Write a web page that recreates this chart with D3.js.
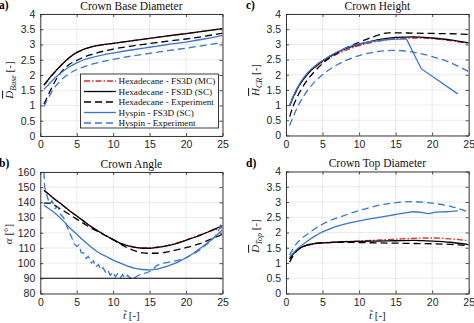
<!DOCTYPE html>
<html>
<head>
<meta charset="utf-8">
<script src="https://d3js.org/d3.v7.min.js"></script>
<style>
  body { margin: 0; background: #fff; }
  svg { display: block; }
</style>
</head>
<body>
<svg id="chart" width="474" height="323"></svg>
<script>
// ---- data ----
var xTicks = [0, 5, 10, 15, 20, 25];
var diamTicks = [0, 0.5, 1, 1.5, 2, 2.5, 3, 3.5, 4];
var angleTicks = [80, 90, 100, 110, 120, 130, 140, 150, 160];
var legendNames = ["Hexadecane - FS3D (MC)", "Hexadecane - FS3D (SC)", "Hexadecane - Experiment", "Hyspin - FS3D (SC)", "Hyspin - Experiment"];

// a) crown base diameter
var baseHexMC = [[0.5,1.66],[1,1.81],[1.5,1.96],[2,2.1],[3,2.35],[4,2.57],[5,2.73],[6,2.84],[7,2.92],[8,2.97],[10,3.04],[12.5,3.12],[15,3.2],[17.5,3.28],[20,3.36],[22.5,3.44],[25,3.52]];
var baseHexSC = [[0.5,1.67],[1,1.82],[1.5,1.97],[2,2.1],[3,2.35],[4,2.57],[5,2.74],[6,2.85],[7,2.92],[8,2.97],[10,3.04],[12.5,3.12],[15,3.2],[17.5,3.28],[20,3.36],[22.5,3.44],[25,3.52]];
var baseHexExp = [[0.5,1.05],[1,1.3],[1.5,1.55],[2,1.78],[3,2.13],[4,2.35],[5,2.48],[6,2.59],[7,2.67],[8,2.74],[10,2.85],[12.5,2.95],[15,3.03],[17.5,3.11],[20,3.18],[22.5,3.27],[25,3.37]];
var baseHysSC = [[0.5,1.53],[1,1.65],[1.5,1.78],[2,1.9],[3,2.1],[4,2.27],[5,2.4],[6,2.5],[7,2.57],[8,2.63],[10,2.72],[12.5,2.82],[15,2.91],[17.5,3.0],[20,3.08],[22.5,3.18],[25,3.3]];
var baseHysExp = [[0.5,0.97],[1,1.2],[1.5,1.42],[2,1.6],[3,1.87],[4,2.05],[5,2.18],[6,2.27],[7,2.35],[8,2.41],[10,2.51],[12.5,2.62],[15,2.71],[17.5,2.8],[20,2.88],[22.5,2.97],[25,3.06]];

// b) crown angle
var angleHexMC = [[0.5,148],[1,146],[2,142],[3,138.5],[4,134.5],[5,131],[6,127.5],[7,124],[8,121],[9,118],[10,115.5],[11,113],[12,111.5],[13,110.5],[14,110],[15,110],[16,110.5],[17,111.2],[18,112.3],[19,113.6],[20,115.3],[21,117],[22,118.8],[23,120.5],[24,122],[25,123.5]];
var angleHexSC = [[0.5,148],[1,146],[2,142],[3,138.5],[4,134.5],[5,131],[6,127.5],[7,124],[8,121],[9,118],[10,115.5],[11,113],[12,111.5],[13,110.3],[14,109.8],[15,109.8],[16,110.3],[17,111],[18,112],[19,113.3],[20,115],[21,116.7],[22,118.5],[23,120.5],[24,122.5],[25,124.8]];
var angleHexExp = [[0.5,139.5],[1.5,139.5],[2,138],[3,135],[4,132],[5,129],[6,126],[7,123],[8,120.5],[9,118],[10,115.5],[11,112.5],[12,110],[13,108],[14,106.8],[15,106.5],[16,106.5],[17,107],[18,108],[19,109],[20,110.2],[21,111.5],[22,113],[23,115],[24,117],[25,119]];
var angleHysSC = [[0.5,138],[1,136.5],[2,133],[3,128.5],[4,123.5],[5,119],[6,114.5],[7,110.5],[8,107],[9,104.5],[10,102],[11,100],[12,98],[13,96.5],[14,95.8],[15,95.5],[16,96],[17,97.3],[18,99],[19,101],[20,103.5],[21,106.5],[22,110],[23,113.5],[24,117.5],[25,122]];
var angleHysExp = [[0.5,160],[0.6,150],[0.8,147],[1,143],[1.3,139],[1.6,141],[2,136],[2.4,137],[2.8,132],[3.2,130],[3.6,125],[4,120],[4.3,117],[4.6,113],[5,111],[5.3,112],[5.6,107],[6,106.5],[6.3,103],[6.6,104.5],[7,100],[7.3,101.5],[7.6,97.5],[8,99],[8.3,95.5],[8.6,97],[9,93.5],[9.3,95],[9.6,92],[10,94],[10.3,91],[10.6,93],[11,90.5],[11.3,92.5],[11.6,90],[12,92],[12.3,90],[12.6,91.5],[13,90.5],[13.5,92],[14,93],[14.5,93.5],[15,94.5],[15.5,96],[16,98.5],[17,100],[18,101],[19,102],[20,103.5],[21,106],[22,109],[23,113],[24,117.5],[24.5,122],[24.8,126]];
var angleRef = [[0,90],[25,90]];

// c) crown height
var heightHexMC = [[0.5,0.98],[1,1.25],[1.5,1.5],[2,1.72],[3,2.05],[4,2.25],[5,2.41],[6,2.56],[7,2.68],[8,2.79],[10,2.96],[12.5,3.1],[15,3.18],[17.5,3.21],[20,3.19],[22.5,3.12],[25,3.03]];
var heightHexSC = [[0.5,0.98],[1,1.28],[1.5,1.52],[2,1.72],[3,2.03],[4,2.27],[5,2.45],[6,2.6],[7,2.73],[8,2.84],[10,3.0],[12.5,3.15],[15,3.23],[17.5,3.25],[20,3.21],[22.5,3.15],[25,3.05]];
var heightHexExp = [[0.5,0.62],[1,0.98],[1.5,1.25],[2,1.48],[3,1.85],[4,2.13],[5,2.37],[6,2.56],[7,2.72],[8,2.86],[10,3.07],[12,3.25],[14,3.38],[15,3.38],[17.5,3.37],[20,3.36],[22.5,3.35],[25,3.33]];
var heightHysSC = [[0.5,0.98],[1,1.3],[1.5,1.55],[2,1.76],[2.5,1.93],[3,2.08],[3.5,2.2],[4,2.3],[4.5,2.39],[5,2.47],[6,2.62],[7,2.75],[8,2.86],[9,2.95],[10,3.02],[11,3.07],[12.5,3.12],[14,3.16],[15,3.17],[16.5,3.17],[18.5,2.2],[23.5,1.37]];
var heightHysExp = [[0.5,0.33],[1,0.62],[1.5,0.9],[2,1.13],[3,1.5],[4,1.78],[5,2.0],[6,2.18],[7,2.33],[8,2.45],[10,2.63],[12.5,2.76],[14.5,2.8],[16,2.79],[17.5,2.74],[20,2.6],[22.5,2.4],[25,2.1]];

// d) crown top diameter
var topHexMC = [[0.5,1.15],[1,1.3],[1.5,1.42],[2,1.5],[3,1.58],[4,1.63],[5,1.66],[7.5,1.7],[10,1.72],[12.5,1.75],[15,1.78],[17.5,1.81],[20,1.82],[22.5,1.79],[25,1.73]];
var topHexSC = [[0.5,1.13],[1,1.3],[1.5,1.42],[2,1.5],[3,1.59],[4,1.64],[5,1.66],[7.5,1.69],[10,1.71],[12.5,1.72],[15,1.73],[17.5,1.74],[20,1.72],[22.5,1.68],[25,1.6]];
var topHexExp = [[0.5,1.03],[1,1.25],[1.5,1.4],[2,1.5],[3,1.6],[4,1.64],[5,1.66],[7.5,1.68],[10,1.67],[12.5,1.66],[15,1.65],[17.5,1.64],[20,1.63],[22.5,1.61],[25,1.57]];
var topHysSC = [[0.5,1.2],[1,1.33],[1.5,1.45],[2,1.55],[3,1.73],[4,1.89],[5,2.02],[6,2.12],[7.5,2.24],[10,2.38],[12.5,2.49],[15,2.59],[16.5,2.65],[17.5,2.68],[18.5,2.66],[19.5,2.62],[20.5,2.67],[22,2.68],[23.5,2.71]];
var topHysExp = [[0.5,1.26],[1,1.48],[1.5,1.65],[2,1.77],[3,1.96],[4,2.13],[5,2.27],[6,2.39],[7.5,2.52],[10,2.72],[12.5,2.88],[15,2.98],[17.5,3.01],[20,2.96],[22.5,2.86],[25,2.67]];

// ---- styles ----
var RED = '#e3262d', BLUE = '#3a74d4', INK = '#262626';
var lineStyles = [
  {color: RED,    dash: '6,2,1.5,2'},
  {color: '#000', dash: null},
  {color: '#000', dash: '7,4'},
  {color: BLUE,   dash: null},
  {color: BLUE,   dash: '7,4'}
];
var SERIF = '"Liberation Serif", "DejaVu Serif", serif';
var SANS = '"Liberation Sans", Arial, sans-serif';

var svg = d3.select('#chart');
var clipId = 0;

var drawPanel = function(p) {
  var x = d3.scaleLinear().domain([0, 25]).range([p.left, p.right]);
  var y = d3.scaleLinear().domain(p.yDomain).range([p.bottom, p.top]);
  var g = svg.append('g');

  // grid
  g.selectAll('line.gx').data(xTicks).enter().append('line')
    .attr('x1', function(d){ return x(d); }).attr('x2', function(d){ return x(d); })
    .attr('y1', p.top).attr('y2', p.bottom)
    .attr('stroke', '#e6e6e6').attr('stroke-width', 0.8);
  g.selectAll('line.gy').data(p.yTicks).enter().append('line')
    .attr('y1', function(d){ return y(d); }).attr('y2', function(d){ return y(d); })
    .attr('x1', p.left).attr('x2', p.right)
    .attr('stroke', '#e6e6e6').attr('stroke-width', 0.8);

  // curves
  clipId++;
  svg.append('clipPath').attr('id', 'clip' + clipId)
    .append('rect').attr('x', p.left).attr('y', p.top)
    .attr('width', p.right - p.left).attr('height', p.bottom - p.top);
  var lines = g.append('g').attr('clip-path', 'url(#clip' + clipId + ')');

  p.series.forEach(function(s) {
    var st = s.style;
    var line = d3.line()
      .x(function(d){ return x(d[0]); })
      .y(function(d){ return y(d[1]); })
      .curve(s.linear ? d3.curveLinear : d3.curveMonotoneX);
    lines.append('path')
      .datum(s.data)
      .attr('d', line)
      .attr('fill', 'none')
      .attr('stroke', st.color)
      .attr('stroke-width', st.width || 1.3)
      .attr('stroke-dasharray', st.dash);
  });

  // axes, ticks pointing inwards on all four sides
  var ax = function(axis, tx, ty, labels) {
    var a = g.append('g').attr('transform', 'translate(' + tx + ',' + ty + ')')
      .call(axis.tickSizeInner(-3).tickSizeOuter(0).tickPadding(labels ? 5 : 0));
    a.select('.domain').attr('stroke', INK).attr('stroke-width', 0.9);
    a.selectAll('.tick line').attr('stroke', INK).attr('stroke-width', 0.8);
    a.selectAll('text')
      .attr('font-family', SANS).attr('font-size', '10.5px').attr('fill', INK);
    if (!labels) a.selectAll('text').remove();
    return a;
  };
  ax(d3.axisBottom(x).tickValues(xTicks).tickFormat(d3.format('d')), 0, p.bottom, true);
  ax(d3.axisTop(x).tickValues(xTicks), 0, p.top, false);
  ax(d3.axisLeft(y).tickValues(p.yTicks).tickFormat(function(d){ return String(d); }), p.left, 0, true);
  ax(d3.axisRight(y).tickValues(p.yTicks), p.right, 0, false);

  // title and panel letter
  svg.append('text')
    .attr('x', (p.left + p.right) / 2).attr('y', p.top - 4.5)
    .attr('text-anchor', 'middle')
    .attr('font-family', SERIF).attr('font-size', '11.5px').attr('fill', '#111')
    .text(p.title);
  svg.append('text')
    .attr('x', p.letterX).attr('y', p.top - 5)
    .attr('font-family', SERIF).attr('font-size', '11.5px').attr('font-weight', 'bold')
    .text(p.letter);

  // y label
  var yl = svg.append('text')
    .attr('transform', 'translate(' + p.ylabelX + ',' + p.ylabelY + ') rotate(-90)')
    .attr('text-anchor', 'middle')
    .attr('font-family', SERIF).attr('font-size', '11px').attr('fill', INK);
  yl.append('tspan').attr('font-style', 'italic')
    .style('text-decoration', p.ylabel.bar ? 'overline' : null)
    .text(p.ylabel.sym);
  if (p.ylabel.sub) {
    yl.append('tspan').attr('font-style', 'italic').attr('font-size', '8px')
      .attr('dy', 2.5).text(p.ylabel.sub);
    yl.append('tspan').attr('dy', -2.5).text(' ' + p.ylabel.unit);
  } else {
    yl.append('tspan').text(' ' + p.ylabel.unit);
  }

  // x label only on the bottom row
  if (p.xlabel) {
    var xl = svg.append('text')
      .attr('x', (p.left + p.right) / 2).attr('y', p.bottom + 25)
      .attr('text-anchor', 'middle')
      .attr('font-family', SERIF).attr('font-size', '11px').attr('fill', INK);
    xl.append('tspan').attr('font-style', 'italic').text('t\u0303');
    xl.append('tspan').text(' [-]');
  }
  return {x: x, y: y};
};

var seriesFor = function(arrs, linearIdx) {
  return arrs.map(function(a, i) {
    return {data: a, style: lineStyles[i], linear: linearIdx.indexOf(i) >= 0};
  });
};

drawPanel({
  left: 40.3, right: 222.5, top: 14, bottom: 136,
  yDomain: [0, 4], yTicks: diamTicks,
  title: 'Crown Base Diameter', letter: 'a)', letterX: -1,
  ylabel: {sym: 'D', bar: true, sub: 'Base', unit: '[-]'}, ylabelX: 13, ylabelY: 80,
  series: seriesFor([baseHexMC, baseHexSC, baseHexExp, baseHysSC, baseHysExp], [])
});

drawPanel({
  left: 40.3, right: 222.5, top: 172, bottom: 293.5,
  yDomain: [80, 160], yTicks: angleTicks,
  title: 'Crown Angle', letter: 'b)', letterX: -1,
  ylabel: {sym: '\u03b1', bar: false, sub: null, unit: '[\u00b0]'}, ylabelX: 12, ylabelY: 234,
  xlabel: true,
  series: seriesFor([angleHexMC, angleHexSC, angleHexExp, angleHysSC, angleHysExp], [4])
    .concat([{data: angleRef, style: {color: '#000', dash: null, width: 1.1}, linear: true}])
});

drawPanel({
  left: 286, right: 468.7, top: 14, bottom: 135.5,
  yDomain: [0, 4], yTicks: diamTicks,
  title: 'Crown Height', letter: 'c)', letterX: 246,
  ylabel: {sym: 'H', bar: true, sub: 'CR', unit: '[-]'}, ylabelX: 259, ylabelY: 80,
  series: seriesFor([heightHexMC, heightHexSC, heightHexExp, heightHysSC, heightHysExp], [3])
});

drawPanel({
  left: 286, right: 468.7, top: 171.5, bottom: 293.5,
  yDomain: [0, 4], yTicks: diamTicks,
  title: 'Crown Top Diameter', letter: 'd)', letterX: 246,
  ylabel: {sym: 'D', bar: true, sub: 'Top', unit: '[-]'}, ylabelX: 259, ylabelY: 236,
  xlabel: true,
  series: seriesFor([topHexMC, topHexSC, topHexExp, topHysSC, topHysExp], [])
});

// legend inside panel a
var leg = svg.append('g');
leg.append('rect')
  .attr('x', 80.5).attr('y', 74).attr('width', 138).attr('height', 54)
  .attr('fill', '#fff').attr('stroke', INK).attr('stroke-width', 0.9);
legendNames.forEach(function(name, i) {
  var ly = 81 + i * 10.5;
  var st = lineStyles[i];
  leg.append('line')
    .attr('x1', 84).attr('x2', 116).attr('y1', ly).attr('y2', ly)
    .attr('stroke', st.color).attr('stroke-width', 1.3)
    .attr('stroke-dasharray', st.dash);
  leg.append('text')
    .attr('x', 118.5).attr('y', ly + 3.3)
    .attr('font-family', SERIF).attr('font-size', '9.2px').attr('fill', '#111')
    .text(name);
});
</script>
</body>
</html>
